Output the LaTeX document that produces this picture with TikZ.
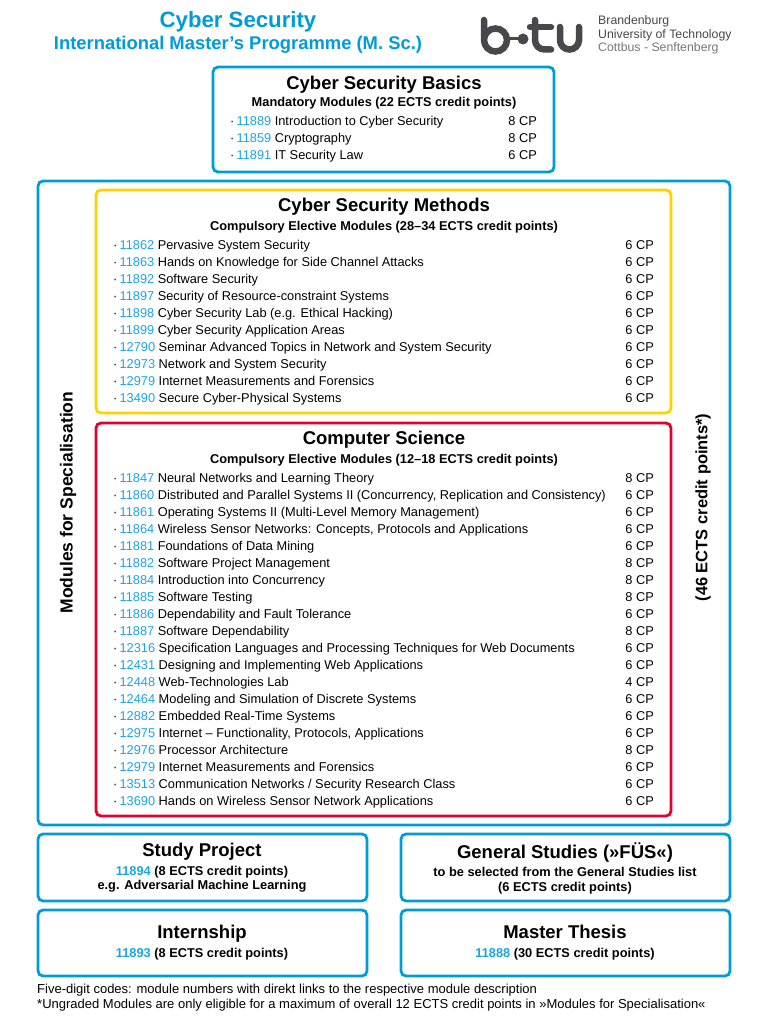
\documentclass[tikz,border=0pt]{standalone}
\usepackage{fontspec}
\setmainfont{Liberation Sans}
\definecolor{btublue}{HTML}{009CD8}
\definecolor{btucode}{HTML}{1BA5E0}
\definecolor{btuyellow}{HTML}{FFD100}
\definecolor{btured}{HTML}{E2002C}
\definecolor{btulogo}{HTML}{48484C}
\newcommand{\cd}[1]{\textcolor{btucode}{#1}}
\tikzset{
  boxline/.style  = {line width=2.8pt,rounded corners=5pt},
  headtxt/.style  = {font=\fontsize{18.5}{20}\selectfont\bfseries,anchor=base},
  subtxt/.style   = {font=\fontsize{12.8}{14}\selectfont\bfseries,anchor=base},
  rowtxt/.style   = {font=\fontsize{12.8}{14}\selectfont,anchor=base west,inner sep=0pt},
  cptxt/.style    = {font=\fontsize{12.8}{14}\selectfont,anchor=base east,inner sep=0pt},
  sidetxt/.style  = {font=\fontsize{17.5}{20}\selectfont\bfseries,rotate=90},
  logotxt/.style  = {font=\fontsize{12.3}{13}\selectfont,anchor=base west,inner sep=0pt},
  logoline/.style = {btulogo,line width=6.5pt,line cap=round},
  foottxt/.style  = {font=\fontsize{13}{14}\selectfont,anchor=base west,inner sep=0pt}
}
\begin{document}
\begin{tikzpicture}[x=1pt,y=-1pt]
  \useasboundingbox (0,0) rectangle (768,1024);
  % --- header
  \node[font=\fontsize{22.2}{24}\selectfont\bfseries,btublue,anchor=base] (title) at (238,28) {Cyber Security};
  \node[font=\fontsize{18.4}{20}\selectfont\bfseries,btublue,anchor=base] (subtitle) at (238,50) {International Master’s Programme (M. Sc.)};
  % --- logo
  \draw[logoline] (484,20) -- (484,40) arc[start angle=180,end angle=-180,radius=11.5];
  \draw[btulogo,line width=3pt] (505,39) -- (520,39);
  \fill[btulogo] (523,39) circle[radius=5.5];
  \draw[logoline] (535,20) -- (535,40) arc[start angle=180,end angle=90,radius=9.5] -- (551,49.5);
  \draw[logoline] (530,27) -- (551,27);
  \draw[logoline] (560,27) -- (560,40) arc[start angle=180,end angle=0,radius=9.5] -- (579,27);
  \node[logotxt,btulogo] (logoa) at (598,24.5) {Brandenburg};
  \node[logotxt,btulogo] (logob) at (598,38.5) {University of Technology};
  \node[logotxt,btulogo!75] (logoc) at (598,52) {Cottbus - Senftenberg};
  % --- basics
  \draw[boxline,btublue] (213,67) rectangle (554,172);
  \node[headtxt] (basicshead) at (384,89.7) {Cyber Security Basics};
  \node[subtxt] (basicssub) at (384,107) {Mandatory Modules (22 ECTS credit points)};
  \foreach \code/\mname/\cp [count=\i] in {
    11889/{Introduction to Cyber Security}/8,
    11859/{Cryptography}/8,
    11891/{IT Security Law}/6} {
    \node[rowtxt] (basics\i) at (230,126+17*\i-17) {·\,\cd{\code} \mname};
    \node[cptxt] (basicscp\i) at (537,126+17*\i-17) {\cp{} CP};
  }
  % --- modules for specialisation
  \draw[boxline,btublue] (38,181) rectangle (730,825);
  \node[sidetxt] (modspec) at (68,502.5) {Modules for Specialisation};
  \node[sidetxt,font=\fontsize{16.5}{20}\selectfont\bfseries] (ectsside) at (703,507.5) {(46 ECTS credit points*)};
  % --- methods
  \draw[boxline,btuyellow] (96,190) rectangle (671,413);
  \node[headtxt] (methodshead) at (384,211.7) {Cyber Security Methods};
  \node[subtxt] (methodssub) at (384,230) {Compulsory Elective Modules (28–34 ECTS credit points)};
  \foreach \code/\mname/\cp [count=\i] in {
    11862/{Pervasive System Security}/6,
    11863/{Hands on Knowledge for Side Channel Attacks}/6,
    11892/{Software Security}/6,
    11897/{Security of Resource-constraint Systems}/6,
    11898/{Cyber Security Lab (e.g. Ethical Hacking)}/6,
    11899/{Cyber Security Application Areas}/6,
    12790/{Seminar Advanced Topics in Network and System Security}/6,
    12973/{Network and System Security}/6,
    12979/{Internet Measurements and Forensics}/6,
    13490/{Secure Cyber-Physical Systems}/6} {
    \node[rowtxt] (meth\i) at (113,249+17.03*\i-17.03) {·\,\cd{\code} \mname};
    \node[cptxt] (methcp\i) at (654,249+17.03*\i-17.03) {\cp{} CP};
  }
  % --- computer science
  \draw[boxline,btured] (96,423) rectangle (671,816);
  \node[headtxt] (cshead) at (384,444.7) {Computer Science};
  \node[subtxt] (cssub) at (384,463) {Compulsory Elective Modules (12–18 ECTS credit points)};
  \foreach \code/\mname/\cp [count=\i] in {
    11847/{Neural Networks and Learning Theory}/8,
    11860/{Distributed and Parallel Systems II (Concurrency, Replication and Consistency)}/6,
    11861/{Operating Systems II (Multi-Level Memory Management)}/6,
    11864/{Wireless Sensor Networks: Concepts, Protocols and Applications}/6,
    11881/{Foundations of Data Mining}/6,
    11882/{Software Project Management}/8,
    11884/{Introduction into Concurrency}/8,
    11885/{Software Testing}/8,
    11886/{Dependability and Fault Tolerance}/6,
    11887/{Software Dependability}/8,
    12316/{Specification Languages and Processing Techniques for Web Documents}/6,
    12431/{Designing and Implementing Web Applications}/6,
    12448/{Web-Technologies Lab}/4,
    12464/{Modeling and Simulation of Discrete Systems}/6,
    12882/{Embedded Real-Time Systems}/6,
    12975/{Internet – Functionality, Protocols, Applications}/6,
    12976/{Processor Architecture}/8,
    12979/{Internet Measurements and Forensics}/6,
    13513/{Communication Networks / Security Research Class}/6,
    13690/{Hands on Wireless Sensor Network Applications}/6} {
    \node[rowtxt] (cs\i) at (113,482+17.01*\i-17.01) {·\,\cd{\code} \mname};
    \node[cptxt] (cscp\i) at (654,482+17.01*\i-17.01) {\cp{} CP};
  }
  % --- bottom boxes
  \draw[boxline,btublue] (38,834) rectangle (367,901);
  \node[headtxt] (studyhead) at (202,856) {Study Project};
  \node[subtxt] (studya) at (202,875) {\cd{11894} (8 ECTS credit points)};
  \node[subtxt] (studyb) at (202,889) {e.g. Adversarial Machine Learning};
  \draw[boxline,btublue] (401,834) rectangle (730,901);
  \node[headtxt] (genhead) at (565,858) {General Studies (»FÜS«)};
  \node[subtxt] (gena) at (565,876) {to be selected from the General Studies list};
  \node[subtxt] (genb) at (565,891) {(6 ECTS credit points)};
  \draw[boxline,btublue] (38,910) rectangle (367,976);
  \node[headtxt] (internhead) at (202,938) {Internship};
  \node[subtxt] (interna) at (202,957) {\cd{11893} (8 ECTS credit points)};
  \draw[boxline,btublue] (401,910) rectangle (730,976);
  \node[headtxt] (thesishead) at (565,938) {Master Thesis};
  \node[subtxt] (thesisa) at (565,957) {\cd{11888} (30 ECTS credit points)};
  % --- footnotes
  \node[foottxt] (foota) at (37,993) {Five-digit codes: module numbers with direkt links to the respective module description};
  \node[foottxt] (footb) at (37,1008) {*Ungraded Modules are only eligible for a maximum of overall 12 ECTS credit points in »Modules for Specialisation«};
\end{tikzpicture}
\end{document}
